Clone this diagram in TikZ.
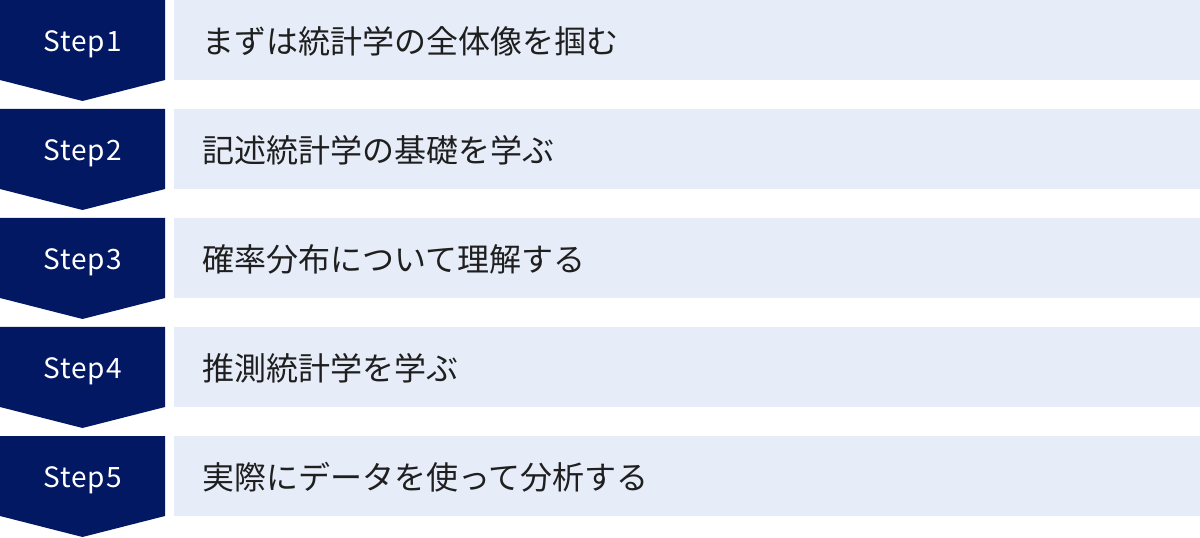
\documentclass[tikz,border=0pt]{standalone}
\usepackage{fontspec}
\newfontfamily\jpfont{Noto Sans CJK JP}
\newfontfamily\stepfont[LetterSpace=4]{Noto Sans CJK JP}
\definecolor{navy}{RGB}{3,24,98}
\definecolor{paleblue}{RGB}{230,236,248}
\tikzset{
  chevron/.style={fill=navy, draw=none},
  bar/.style={fill=paleblue, draw=none},
  steplabel/.style={text=white, font=\stepfont\fontsize{21pt}{24pt}\selectfont, inner sep=0pt},
  steptext/.style={text=black!88, font=\jpfont\fontsize{24pt}{27pt}\selectfont, anchor=west, inner sep=0pt}
}
\begin{document}
\begin{tikzpicture}[x=0.75pt,y=-0.75pt]
\useasboundingbox (0,0) rectangle (1200,538);
\foreach \i/\t in {1/まずは統計学の全体像を掴む,2/記述統計学の基礎を学ぶ,3/確率分布について理解する,4/推測統計学を学ぶ,5/実際にデータを使って分析する}{
  \pgfmathsetmacro{\top}{(\i-1)*109}
  \fill[chevron] (0,\top) -- (165,\top) -- (165,\top+80) -- (82.5,\top+101) -- (0,\top+80) -- cycle;
  \fill[bar] (174,\top) rectangle (1200,\top+80);
  \node[steplabel] (s\i) at (82.5,\top+44) {Step\i};
  \node[steptext] (t\i) at (202,\top+41) {\t};
}
\end{tikzpicture}
\end{document}
